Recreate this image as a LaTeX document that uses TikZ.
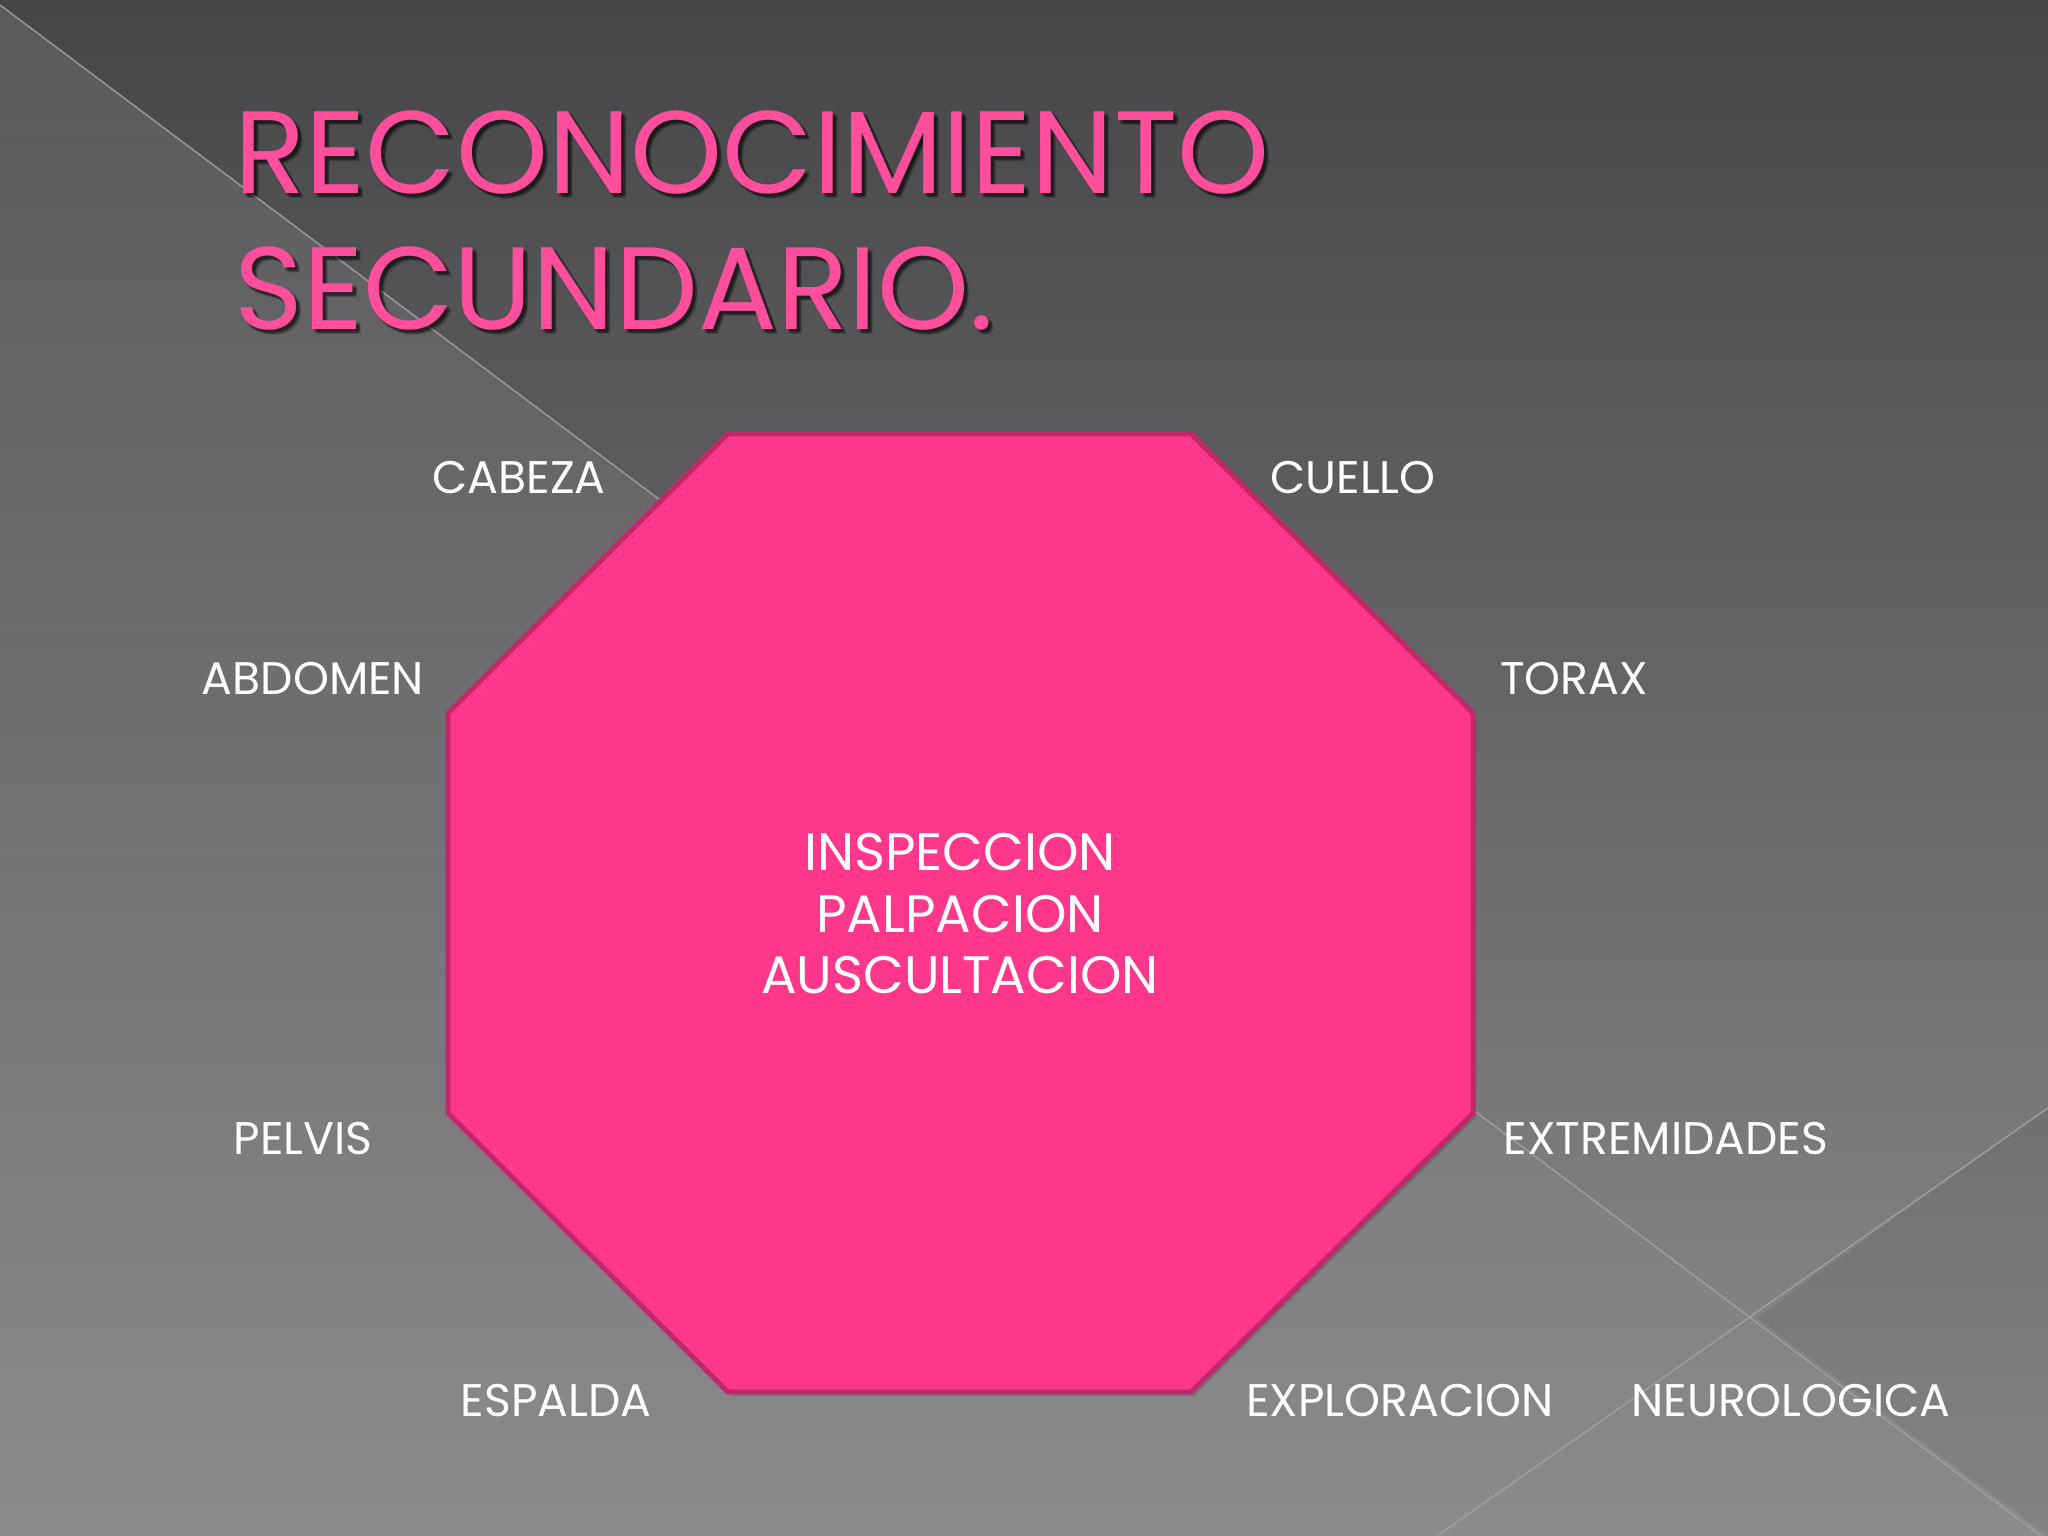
\documentclass[tikz,border=0pt]{standalone}
\usepackage{fontspec}
\setmainfont{Poppins}
\usetikzlibrary{fadings}
\definecolor{bgtop}{HTML}{464547}
\definecolor{bgbot}{HTML}{8C8B8E}
\definecolor{octfill}{HTML}{FF388B}
\definecolor{octedge}{HTML}{C4266B}
\definecolor{titlepink}{HTML}{FF4E9C}
\definecolor{bgline}{HTML}{A2A2A4}
\tikzset{
  lbl/.style={text=white, inner sep=0pt, anchor=base, font=\fontsize{13}{15}\selectfont},
  ctr/.style={text=white, inner sep=0pt, anchor=base, font=\fontsize{15}{18}\selectfont},
  ttl/.style={text=titlepink, inner sep=0pt, anchor=base west, font=\fontsize{33.3}{38}\selectfont},
  ttlshadow/.style={text=black, text opacity=0.18, inner sep=0pt, anchor=base west, font=\fontsize{33.3}{38}\selectfont},
  bgl/.style={draw=bgline, line width=0.35pt},
}
\begin{document}
\begin{tikzpicture}[x=0.01cm, y=-0.01cm]
\useasboundingbox (0,0) rectangle (2048,1536);
% background
\shade[top color=bgtop, bottom color=bgbot] (0,0) rectangle (2048,1536);
\fill[white, fill opacity=0.11, path fading=south] (0,5) -- (2048,1541) -- (0,1541) -- cycle;
\fill[black, fill opacity=0.06] (1757,1318) -- (2048,1108) -- (2048,1536) -- cycle;
\coordinate (l1a) at (0,5);
\coordinate (l1b) at (2048,1541);
\coordinate (l2a) at (2048,1108);
\coordinate (l2b) at (1437,1536);
\draw[bgl] (l1a) -- (l1b);
\draw[bgl] (l2a) -- (l2b);
% title with soft shadow
\foreach \dx/\dy [count=\i] in {3/3,4/4,2/4,4/2,5/5} {
  \node[ttlshadow] (t1s\i) at (234+\dx,193+\dy) {RECONOCIMIENTO};
  \node[ttlshadow] (t2s\i) at (234+\dx,329+\dy) {SECUNDARIO.};
}
\node[ttl] (t1) at (234,193) {RECONOCIMIENTO};
\node[ttl] (t2) at (234,329) {SECUNDARIO.};
% octagon
\fill[black, fill opacity=0.15] (731,438) -- (1194,438) -- (1476,717) -- (1476,1117) -- (1194,1396) -- (731,1396) -- (451,1117) -- (451,717) -- cycle;
\filldraw[fill=octfill, draw=octedge, line width=1.4pt, line join=miter]
  (728,434) -- (1191,434) -- (1473,713) -- (1473,1113) -- (1191,1392) -- (728,1392) -- (448,1113) -- (448,713) -- cycle;
\node[ctr] (c1) at (960,870) {INSPECCION};
\node[ctr] (c2) at (960,932) {PALPACION};
\node[ctr] (c3) at (960,993) {AUSCULTACION};
% labels
\node[lbl] (cabeza) at (519,493) {CABEZA};
\node[lbl] (cuello) at (1353,493) {CUELLO};
\node[lbl] (abdomen) at (313,694) {ABDOMEN};
\node[lbl] (torax) at (1574,694) {TORAX};
\node[lbl] (pelvis) at (303,1154) {PELVIS};
\node[lbl] (extrem) at (1666,1154) {EXTREMIDADES};
\node[lbl] (espalda) at (556,1416) {ESPALDA};
\node[lbl] (explor) at (1400,1416) {EXPLORACION};
\node[lbl] (neuro) at (1791,1416) {NEUROLOGICA};
\end{tikzpicture}
\end{document}
